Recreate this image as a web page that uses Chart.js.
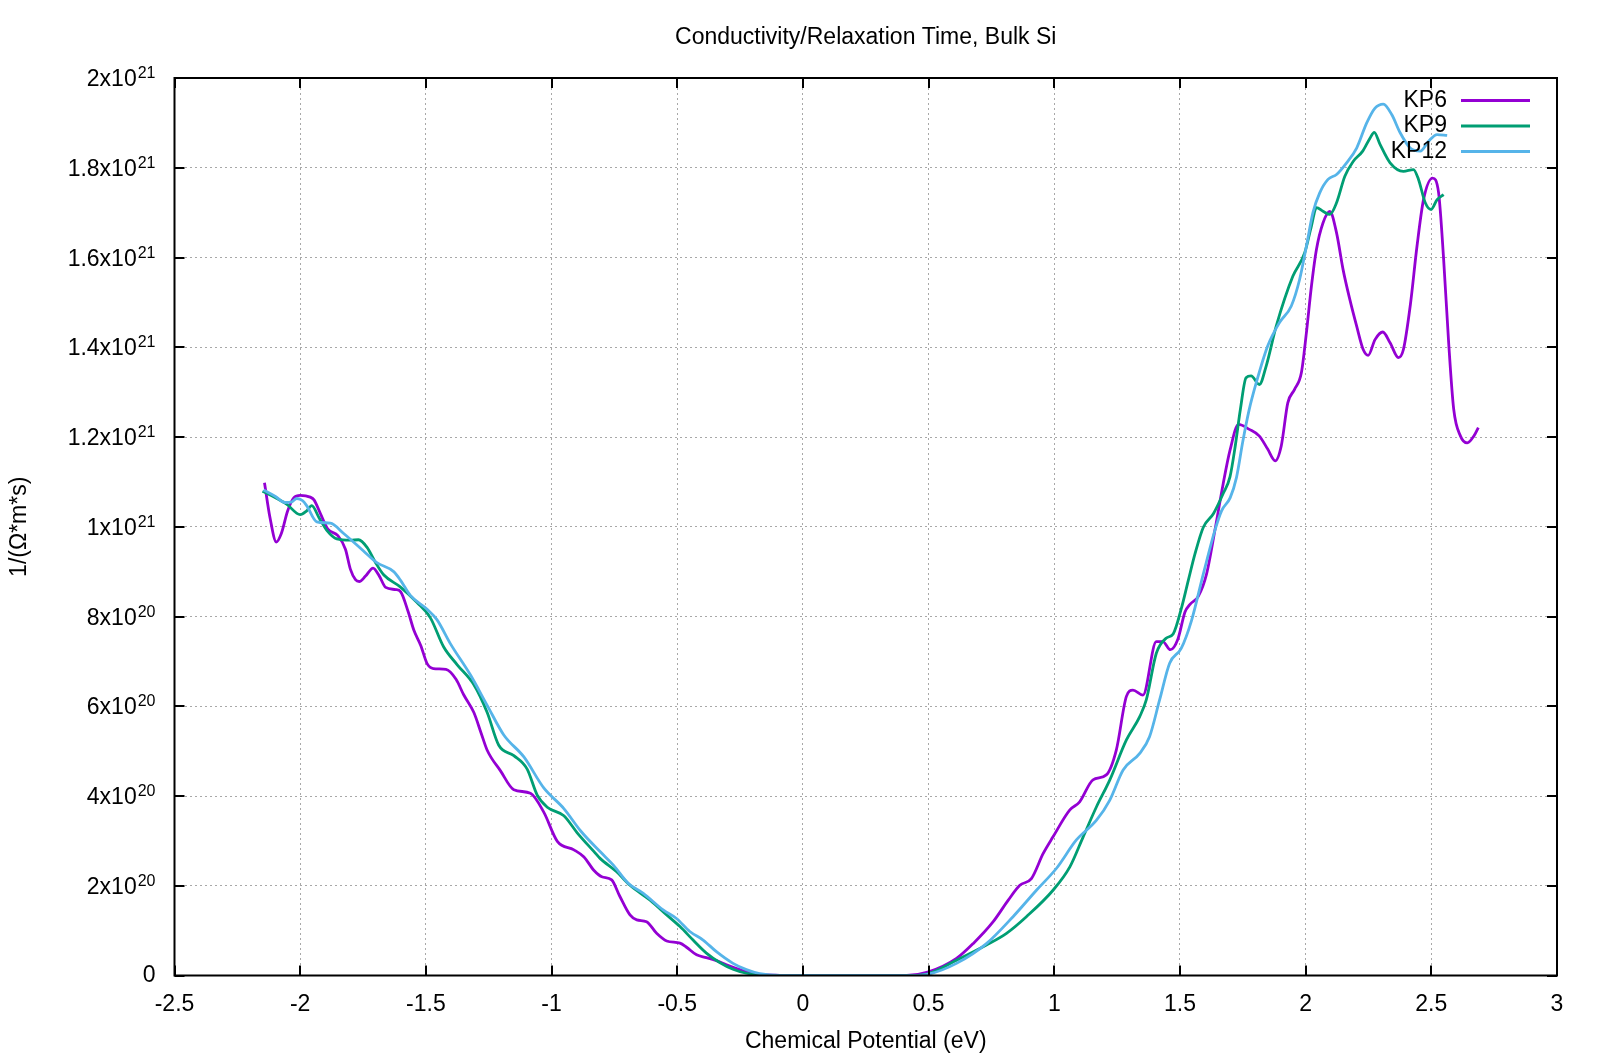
<!DOCTYPE html>
<html>
<head>
<meta charset="utf-8">
<title>Conductivity/Relaxation Time, Bulk Si</title>
<script src="https://cdn.jsdelivr.net/npm/chart.js@4.4.0/dist/chart.umd.min.js"></script>
<style>
  html, body { margin: 0; padding: 0; background: #fff; }
  canvas { display: block; }
</style>
</head>
<body>
<canvas id="chart" width="1600" height="1059"></canvas>
<script>
// chemical potential (eV) and conductivity/tau in units of 1e20 1/(Ohm*m*s)
const kp6X = [-2.142, -2.12, -2.095, -2.075, -2.05, -2.025, -2.0, -1.96, -1.945, -1.92, -1.89, -1.85, -1.82, -1.80, -1.78, -1.765,
  -1.74, -1.71, -1.685, -1.66, -1.62, -1.60, -1.57, -1.548, -1.52, -1.495, -1.47, -1.42, -1.38, -1.349, -1.309, -1.28, -1.256,
  -1.203, -1.15, -1.084, -1.031, -0.977, -0.911, -0.871, -0.831, -0.80, -0.761, -0.728, -0.688, -0.661, -0.622, -0.582, -0.542,
  -0.489, -0.463, -0.423, -0.384, -0.344, -0.304, -0.251, -0.198, -0.119, -0.079, 0.0, 0.2, 0.413, 0.5, 0.611, 0.677, 0.757,
  0.817, 0.863, 0.909, 0.956, 0.995, 1.062, 1.101, 1.154, 1.207, 1.247, 1.287, 1.313, 1.353, 1.406, 1.432, 1.462, 1.492, 1.52,
  1.54, 1.573, 1.606, 1.639, 1.672, 1.699, 1.733, 1.776, 1.816, 1.849, 1.879, 1.903, 1.929, 1.956, 1.983, 2.003, 2.023, 2.043,
  2.069, 2.096, 2.123, 2.149, 2.176, 2.203, 2.229, 2.249, 2.276, 2.307, 2.336, 2.369, 2.389, 2.416, 2.443, 2.469, 2.505, 2.529,
  2.549, 2.569, 2.589, 2.616, 2.643, 2.669, 2.687];
const kp6Y = [10.98, 10.2, 9.66, 9.85, 10.35, 10.65, 10.70, 10.66, 10.6, 10.3, 9.95, 9.8, 9.5, 9.05, 8.82, 8.78,
  8.9, 9.08, 8.9, 8.65, 8.6, 8.55, 8.1, 7.70, 7.35, 6.95, 6.84, 6.82, 6.6, 6.25, 5.86, 5.4, 5.02,
  4.56, 4.14, 4.06, 3.64, 2.99, 2.80, 2.64, 2.34, 2.2, 2.13, 1.76, 1.35, 1.24, 1.20, 0.94, 0.77,
  0.72, 0.63, 0.46, 0.40, 0.33, 0.24, 0.13, 0.04, 0.01, 0, 0, 0, 0, 0.08, 0.38, 0.71, 1.20,
  1.68, 2.01, 2.16, 2.72, 3.09, 3.69, 3.87, 4.36, 4.47, 5.03, 6.22, 6.36, 6.25, 7.44, 7.44, 7.26, 7.50, 8.1,
  8.27, 8.45, 8.95, 9.92, 10.96, 11.70, 12.28, 12.17, 12.02, 11.73, 11.47, 11.8, 12.76, 13.06, 13.43, 14.32, 15.36, 16.18,
  16.77, 17.03, 16.55, 15.73, 15.06, 14.47, 13.95, 13.82, 14.17, 14.34, 14.10, 13.77, 13.95, 14.92, 16.25, 17.29, 17.77, 17.44,
  15.96, 14.10, 12.62, 12.02, 11.87, 12.02, 12.21];

const kp9X = [-2.15, -2.1, -2.053, -2.0, -1.975, -1.954, -1.925, -1.894, -1.854, -1.80, -1.768, -1.734, -1.70, -1.668, -1.602,
  -1.535, -1.482, -1.429, -1.376, -1.309, -1.256, -1.21, -1.15, -1.097, -1.057, -1.017, -0.951, -0.898, -0.831, -0.807, -0.741,
  -0.688, -0.608, -0.542, -0.489, -0.437, -0.384, -0.331, -0.278, -0.225, -0.172, -0.119, 0.0, 0.2, 0.44, 0.5, 0.611, 0.73,
  0.81, 0.889, 0.995, 1.062, 1.115, 1.168, 1.221, 1.287, 1.340, 1.366, 1.406, 1.446, 1.473, 1.507, 1.533, 1.56, 1.593, 1.633,
  1.672, 1.699, 1.72, 1.74, 1.763, 1.783, 1.816, 1.843, 1.883, 1.949, 1.996, 2.023, 2.043, 2.069, 2.096, 2.123, 2.156, 2.189,
  2.227, 2.256, 2.273, 2.296, 2.336, 2.389, 2.429, 2.449, 2.476, 2.499, 2.523, 2.549];
const kp9Y = [10.79, 10.65, 10.50, 10.27, 10.35, 10.47, 10.2, 9.92, 9.73, 9.70, 9.71, 9.54, 9.2, 8.93, 8.66,
  8.31, 7.97, 7.32, 6.93, 6.48, 5.86, 5.13, 4.90, 4.60, 4.02, 3.75, 3.56, 3.18, 2.76, 2.61, 2.31,
  2.01, 1.68, 1.35, 1.09, 0.79, 0.50, 0.29, 0.14, 0.05, 0.01, 0, 0, 0, 0, 0.04, 0.34, 0.68,
  0.94, 1.31, 1.90, 2.42, 3.09, 3.76, 4.36, 5.25, 5.77, 6.14, 7.18, 7.52, 7.61, 8.21, 8.80, 9.40, 9.99, 10.29,
  10.74, 11.11, 11.8, 12.6, 13.32, 13.36, 13.17, 13.58, 14.47, 15.58, 16.10, 16.70, 17.11, 17.03, 16.96, 17.22, 17.81, 18.14,
  18.37, 18.66, 18.79, 18.52, 18.11, 17.92, 17.96, 17.74, 17.22, 17.07, 17.29, 17.40];

const kp12X = [-2.146, -2.1, -2.06, -2.035, -2.013, -1.99, -1.973, -1.934, -1.88, -1.827, -1.748, -1.695, -1.628, -1.60, -1.562,
  -1.495, -1.456, -1.402, -1.323, -1.256, -1.19, -1.11, -1.031, -0.951, -0.884, -0.805, -0.754, -0.694, -0.635, -0.556, -0.503,
  -0.45, -0.397, -0.344, -0.278, -0.225, -0.172, -0.093, 0.0, 0.2, 0.44, 0.5, 0.611, 0.73, 0.836, 0.929, 1.009, 1.088, 1.168,
  1.221, 1.274, 1.340, 1.379, 1.419, 1.459, 1.505, 1.546, 1.593, 1.639, 1.666, 1.70, 1.725, 1.75, 1.775, 1.803, 1.849, 1.896,
  1.943, 1.976, 2.003, 2.029, 2.056, 2.089, 2.123, 2.163, 2.203, 2.243, 2.276, 2.309, 2.343, 2.376, 2.416, 2.456, 2.489, 2.523,
  2.563];
const kp12Y = [10.82, 10.68, 10.54, 10.55, 10.63, 10.58, 10.46, 10.11, 10.08, 9.85, 9.46, 9.20, 9.00, 8.8, 8.47,
  8.16, 7.93, 7.39, 6.70, 6.02, 5.36, 4.87, 4.18, 3.72, 3.22, 2.75, 2.46, 2.05, 1.83, 1.46, 1.27,
  0.98, 0.79, 0.53, 0.27, 0.13, 0.04, 0, 0, 0, 0, 0.03, 0.27, 0.71, 1.31, 1.90, 2.39, 3.02, 3.46,
  3.91, 4.58, 4.95, 5.32, 6.14, 6.96, 7.29, 7.91, 8.95, 9.92, 10.36, 10.65, 11.1, 11.9, 12.6, 13.2, 14.03, 14.55,
  14.92, 15.51, 16.25, 17.0, 17.44, 17.74, 17.85, 18.11, 18.44, 19.0, 19.33, 19.42, 19.18, 18.78, 18.44, 18.37, 18.59, 18.74,
  18.72];

const seriesNames = ['KP6', 'KP9', 'KP12'];
const seriesColors = ['#9400d3', '#009e73', '#56b4e9'];
const yUnit = 1e20;

const xMin = -2.5, xMax = 3, xStep = 0.5;
const yMin = 0, yMax = 2e21, yStep = 2e20;

const chartTitle = 'Conductivity/Relaxation Time, Bulk Si';
const FONT = '"Liberation Sans", Arial, Helvetica, sans-serif';

function points(xs, ys) {
  return xs.map((x, i) => ({x: x, y: ys[i] * yUnit}));
}

const seriesData = [points(kp6X, kp6Y), points(kp9X, kp9Y), points(kp12X, kp12Y)];

// title over the plot box, frame, inward ticks, y labels with superscripts, legend
const gnuplotLook = {
  id: 'gnuplotLook',
  afterDraw(chart) {
    const ctx = chart.ctx;
    const area = chart.chartArea;
    const xs = chart.scales.x, ys = chart.scales.y;
    ctx.save();

    ctx.fillStyle = '#000';
    ctx.font = '23px ' + FONT;
    ctx.textAlign = 'center';
    ctx.textBaseline = 'middle';
    ctx.fillText(chartTitle, (area.left + area.right) / 2, 38);

    ctx.strokeStyle = '#000';
    ctx.lineWidth = 2;
    ctx.beginPath();
    xs.ticks.forEach(t => {
      const px = Math.round(xs.getPixelForValue(t.value));
      ctx.moveTo(px, area.bottom); ctx.lineTo(px, area.bottom - 10);
      ctx.moveTo(px, area.top); ctx.lineTo(px, area.top + 10);
    });
    ys.ticks.forEach(t => {
      const py = Math.round(ys.getPixelForValue(t.value));
      ctx.moveTo(area.left, py); ctx.lineTo(area.left + 10, py);
      ctx.moveTo(area.right, py); ctx.lineTo(area.right - 10, py);
    });
    ctx.stroke();
    ctx.strokeRect(area.left, area.top, area.right - area.left, area.bottom - area.top);

    // y tick labels like 1.8x10^21
    ys.ticks.forEach(t => {
      const v = t.value;
      const py = ys.getPixelForValue(v);
      const xr = area.left - 19;
      if (Math.abs(v) < 1) {
        ctx.font = '23px ' + FONT;
        ctx.textAlign = 'right';
        ctx.textBaseline = 'middle';
        ctx.fillText('0', xr, py);
        return;
      }
      const exp = Math.floor(Math.log10(v) + 1e-9);
      const mant = Math.round(v / Math.pow(10, exp) * 10) / 10;
      const sup = String(exp);
      ctx.textAlign = 'right';
      ctx.textBaseline = 'alphabetic';
      ctx.font = '16px ' + FONT;
      const supW = ctx.measureText(sup).width;
      ctx.fillText(sup, xr, py);
      ctx.font = '23px ' + FONT;
      ctx.fillText(mant + 'x10', xr - supW - 1, py + 8);
    });

    // legend, text left of sample line
    ctx.font = '23px ' + FONT;
    ctx.textAlign = 'right';
    ctx.textBaseline = 'middle';
    seriesNames.forEach((name, i) => {
      const ly = area.top + 22.5 + i * 25.5;
      ctx.fillStyle = '#000';
      ctx.fillText(name, area.right - 110, ly);
      ctx.strokeStyle = seriesColors[i];
      ctx.lineWidth = 2.8;
      ctx.beginPath();
      ctx.moveTo(area.right - 96, ly);
      ctx.lineTo(area.right - 27, ly);
      ctx.stroke();
    });
    ctx.restore();
  }
};

new Chart(document.getElementById('chart'), {
  type: 'scatter',
  data: {
    datasets: seriesData.map((d, i) => ({
      label: seriesNames[i],
      data: d,
      showLine: true,
      borderColor: seriesColors[i],
      backgroundColor: seriesColors[i],
      borderWidth: 2.8,
      pointRadius: 0,
      cubicInterpolationMode: 'monotone',
      order: 3 - i
    }))
  },
  options: {
    responsive: false,
    animation: false,
    events: [],
    layout: {padding: {left: 0, right: 43, top: 78, bottom: 0}},
    plugins: {
      legend: {display: false},
      tooltip: {enabled: false},
      title: {display: false}
    },
    scales: {
      x: {
        type: 'linear',
        min: xMin,
        max: xMax,
        afterFit(scale) { scale.height = 83.5; },
        ticks: {
          stepSize: xStep,
          color: '#000',
          padding: 15,
          maxRotation: 0,
          font: {family: FONT, size: 23},
          callback: v => String(Math.round(v * 10) / 10)
        },
        grid: {color: '#a8a8a8', lineWidth: 1, drawTicks: false},
        border: {display: false, dash: [2, 3]},
        title: {
          display: true,
          text: 'Chemical Potential (eV)',
          color: '#000',
          font: {family: FONT, size: 23},
          padding: {top: 0, bottom: 4}
        }
      },
      y: {
        type: 'linear',
        min: yMin,
        max: yMax,
        afterFit(scale) { scale.width = 174.5; },
        ticks: {stepSize: yStep, display: false},
        grid: {color: '#a8a8a8', lineWidth: 1, drawTicks: false},
        border: {display: false, dash: [2, 3]},
        title: {
          display: true,
          text: '1/(Ω*m*s)',
          color: '#000',
          font: {family: FONT, size: 23},
          padding: {top: 6, bottom: 0}
        }
      }
    }
  },
  plugins: [gnuplotLook]
});
</script>
</body>
</html>
